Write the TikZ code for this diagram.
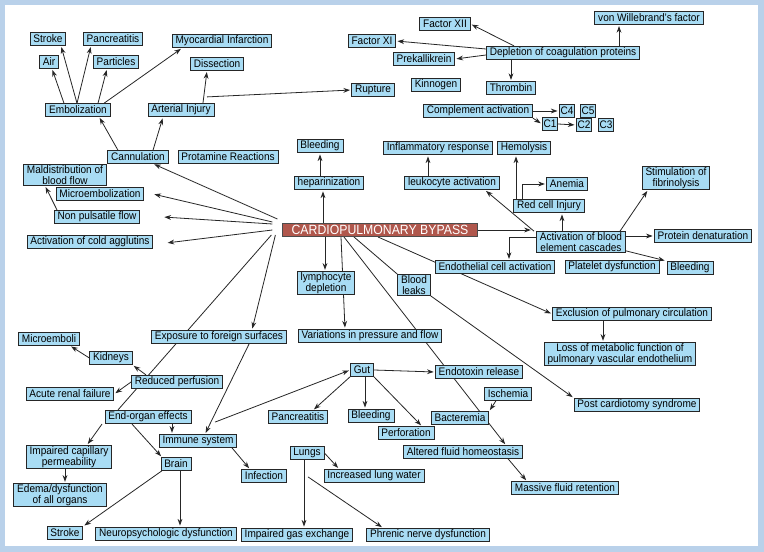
\documentclass[tikz,border=0pt]{standalone}
\usepackage{fontspec}
\setmainfont{Liberation Sans}[FakeStretch=0.92]
\usetikzlibrary{arrows.meta,calc}
\pgfdeclarelayer{back}
\pgfdeclarelayer{bg}
\pgfsetlayers{back,bg,main}
\definecolor{boxfill}{HTML}{A8DCF4}
\definecolor{frame}{HTML}{B9D1EA}
\definecolor{cpbred}{HTML}{B0574C}
\begin{document}
\begin{tikzpicture}[x=0.75pt,y=-0.75pt,
  bx/.style={draw=black!85,fill=boxfill,line width=0.6pt,inner xsep=2.5pt,inner ysep=1.2pt,minimum height=9.5pt,font=\fontsize{8.2}{8.6}\selectfont,align=center},
  ar/.style={-{Stealth[length=5pt,width=3.6pt]},line width=0.6pt,draw=black!85,shorten >=1pt},
  ln/.style={line width=0.6pt,draw=black!85}]
\begin{pgfonlayer}{back}
\fill[frame] (0,0) rectangle (764,552);
\fill[white] (5,5) rectangle (758,546);
\end{pgfonlayer}
\useasboundingbox (0,0) rectangle (764,552);
% nodes
\node[bx] (stroke1) at (48,39) {Stroke};
\node[bx] (panc1) at (113,39) {Pancreatitis};
\node[bx] (mi) at (222,41) {Myocardial Infarction};
\node[bx] (air) at (49,62) {Air};
\node[bx] (part) at (116,62) {Particles};
\node[bx] (diss) at (217,64) {Dissection};
\node[bx] (embo) at (78,110) {Embolization};
\node[bx] (art) at (181,110) {Arterial Injury};
\node[bx] (rupt) at (373,90) {Rupture};
\node[bx] (bleed1) at (320,146) {Bleeding};
\node[bx] (hep) at (329,183) {heparinization};
\node[bx] (cann) at (138,157) {Cannulation};
\node[bx] (prot) at (228,157) {Protamine Reactions};
\node[bx,inner ysep=0.5pt] (mald) at (65,175) {Maldistribution of\\blood flow};
\node[bx] (micro) at (100,194) {Microembolization};
\node[bx] (nonp) at (97,217) {Non pulsatile flow};
\node[bx] (cold) at (90,242) {Activation of cold agglutins};
\node[draw=black!70,fill=cpbred,text=white,font=\fontsize{10}{11}\selectfont,inner xsep=3pt,inner ysep=1.5pt,minimum width=146pt] (cpb) at (380,230) {CARDIOPULMONARY BYPASS};
\node[bx] (f12) at (445,24) {Factor XII};
\node[bx] (vwf) at (649,18) {von Willebrand's factor};
\node[bx] (f11) at (372,41) {Factor XI};
\node[bx] (depl) at (563,53) {Depletion of coagulation proteins};
\node[bx] (prek) at (424,59) {Prekallikrein};
\node[bx] (kinn) at (436,85) {Kinnogen};
\node[bx] (thro) at (511,88) {Thrombin};
\node[bx] (comp) at (478,111) {Complement activation};
\node[bx,inner xsep=1pt] (c4) at (567,111) {C4};
\node[bx,inner xsep=1pt] (c5) at (588,111) {C5};
\node[bx,inner xsep=1pt] (c1) at (550,124) {C1};
\node[bx,inner xsep=1pt] (c2) at (584,125) {C2};
\node[bx,inner xsep=1pt] (c3) at (606,125) {C3};
\node[bx] (infl) at (438,148) {Inflammatory response};
\node[bx] (hemo) at (524,148) {Hemolysis};
\node[bx] (leuk) at (452,183) {leukocyte activation};
\node[bx] (anem) at (567,184) {Anemia};
\node[bx,inner ysep=0.5pt] (fibr) at (676,178) {Stimulation of\\fibrinolysis};
\node[bx] (rci) at (549,206) {Red cell Injury};
\node[bx,inner ysep=0.5pt] (act) at (581,242) {Activation of blood\\element cascades};
\node[bx] (pden) at (703,236) {Protein denaturation};
\node[bx] (endo) at (495,267) {Endothelial cell activation};
\node[bx] (plat) at (612,267) {Platelet dysfunction};
\node[bx] (bleedr) at (690,268) {Bleeding};
\node[bx,inner ysep=0.5pt] (lymph) at (326,283) {lymphocyte\\depletion};
\node[bx,inner ysep=0.5pt] (leaks) at (414,285) {Blood\\leaks};
\node[bx] (excl) at (632,314) {Exclusion of pulmonary circulation};
\node[bx] (var) at (370,336) {Variations in pressure and flow};
\node[bx,inner ysep=0.5pt] (loss) at (620,354) {Loss of metabolic function of\\pulmonary vascular endothelium};
\node[bx] (gut) at (362,370) {Gut};
\node[bx] (etox) at (479,372) {Endotoxin release};
\node[bx] (isch) at (508,394) {Ischemia};
\node[bx] (post) at (637,405) {Post cardiotomy syndrome};
\node[bx] (panc2) at (298,417) {Pancreatitis};
\node[bx] (bleed2) at (371,416) {Bleeding};
\node[bx] (bact) at (460,418) {Bacteremia};
\node[bx] (perf) at (406,433) {Perforation};
\node[bx] (alt) at (463,452) {Altered fluid homeostasis};
\node[bx] (lungs) at (307,453) {Lungs};
\node[bx] (ilw) at (374,476) {Increased lung water};
\node[bx] (mass) at (565,488) {Massive fluid retention};
\node[bx] (phr) at (428,535) {Phrenic nerve dysfunction};
\node[bx] (gas) at (297,535) {Impaired gas exchange};
\node[bx] (memb) at (49,339) {Microemboli};
\node[bx] (expo) at (219,337) {Exposure to foreign surfaces};
\node[bx] (kid) at (111,358) {Kidneys};
\node[bx] (redp) at (177,382) {Reduced perfusion};
\node[bx] (arf) at (70,394) {Acute renal failure};
\node[bx] (endorg) at (148,417) {End-organ effects};
\node[bx] (immu) at (198,441) {Immune system};
\node[bx,inner ysep=0.5pt] (icap) at (69,457) {Impaired capillary\\permeability};
\node[bx] (brain) at (176,464) {Brain};
\node[bx] (inf) at (264,476) {Infection};
\node[bx,inner ysep=0.5pt] (edema) at (60,495) {Edema/dysfunction\\of all organs};
\node[bx] (stroke2) at (65,533) {Stroke};
\node[bx] (neur) at (166,534) {Neuropsychologic dysfunction};
% edges
\begin{pgfonlayer}{bg}
\draw[ar] (embo.north -| 64,0) -- (air.south -| 52,0);
\draw[ar] (embo.north -| 77,0) -- (stroke1.south -| 61,0);
\draw[ar] (embo.north -| 77,0) -- (panc1.south -| 91,0);
\draw[ar] (embo.north -| 98,0) -- (part.south -| 107,0);
\draw[ar] (embo.north -| 104,0) -- (mi.south -| 182,0);
\draw[ar] (cann.north -| 118,0) -- (embo.south -| 99,0);
\draw[ar] (cann.north -| 153,0) -- (art.south -| 163,0);
\draw[ar] (art.north -| 203,0) -- (diss.south -| 207,0);
\draw[ar] ($(art.north -| 207,0)+(0,-6)$) -- (rupt.west);
\draw[ar] ($(cpb.north west)+(-5,-4)$) -- (cann.south -| 153,0);
\draw[ar] ($(cpb.west)+(-10,-8)$) -- (micro.east -| 153,0);
\draw[ar] ($(cpb.west)+(-10,-6)$) -- (nonp.east -| 163,0);
\draw[ar] ($(cpb.west)+(-10,0)$) -- ($(cold.east)+(13,1)$);
\draw[ar] (nonp.north -| 57,0) -- (mald.south -| 45,0);
\draw[ar] (cpb.north -| 323,0) -- (hep.south -| 323,0);
\draw[ar] (hep.north -| 320,0) -- (bleed1.south -| 320,0);
\draw[ar] (cpb.south -| 325,0) -- (lymph.north -| 325,0);
\draw[ar] (cpb.south -| 341,0) -- (var.north -| 345,0);
\draw[ln] (cpb.south -| 354,0) -- (leaks.north west);
\draw[ar] (leaks.south east) -- (post.north west);
\draw[ar] (cpb.south -| 378,0) -- (excl.west);
\draw[ar] (cpb.south -| 344,0) -- (alt.north -| 506,0);
\draw[ar] (alt.south -| 508,0) -- (mass.north -| 527,0);
\draw[ar] (excl.south -| 603,0) -- (loss.north -| 603,0);
\draw[ar,shorten >=4pt] (cpb.east) -- (act.west |- cpb.east);
\draw[ar] (act.north -| 534,0) -- (leuk.south -| 485,0);
\draw[ar] (leuk.north -| 428,0) -- (infl.south -| 428,0);
\draw[ar] (act.north -| 562,0) -- (rci.south -| 562,0);
\draw[ar] (rci.north -| 516,0) -- (hemo.south -| 516,0);
\draw[ar] (rci.north -| 522,0) |- (anem.west);
\draw[ar] (act.north -| 620,0) -- (fibr.south -| 648,0);
\draw[ar] (act.east |- pden) -- (pden);
\draw[ar] ($(act.south east)+(0,-2)$) -- (bleedr.north -| 666,0);
\draw[ar] (act.west |- 0,237) -| (endo.north -| 509,0);
\draw[ar] (depl.north -| 514,0) -- (f12.east);
\draw[ar] ($(depl.west)+(0,-4)$) -- (f11.east);
\draw[ar] ($(depl.west)+(0,2)$) -- (prek.east);
\draw[ar] (depl.south -| thro) -- (thro);
\draw[ar] (depl.north -| 619,0) -- (vwf.south -| 619,0);
\draw[ar] (comp.east) -- (c4.west);
\draw[ar] (comp.south east) -- (c1.west);
\draw[ar] (c1.east) -- (c2.west);
\draw[ar] ($(cpb.south west)+(-7,-2)$) -- (expo.north -| 252,0);
\draw[ln] ($(cpb.south west)+(-11,-2)$) -- (endorg.north -| 118,0);
\draw[ar] (expo.south -| 249,0) -- (immu.north -| 205,0);
\draw[ar] (redp.north -| 146,0) -- (kid.south east);
\draw[ar] (kid.west) -- (memb.south -| 70,0);
\draw[ar] (redp.west) -- (arf.east);
\draw[ar] (endorg.south -| 172,0) -- (immu.north -| 172,0);
\draw[ar] (endorg.south -| 102,0) -- (icap.north -| 87,0);
\draw[ar] (endorg.south -| 132,0) -- (brain.north -| 162,0);
\draw[ar] (icap.south -| 65,0) -- (edema.north -| 65,0);
\draw[ar] (brain.south -| 162,0) -- (stroke2.north east);
\draw[ar] (brain.south -| 180,0) -- (neur.north -| 180,0);
\draw[ar] (immu.south -| 232,0) -- (inf.north -| 250,0);
\draw[ar] ($(immu.north)+(17,-12)$) -- (gut.west);
\draw[ar] (gut.south west) -- (panc2.north -| 313,0);
\draw[ar] (gut.south -| 365,0) -- (bleed2.north -| 365,0);
\draw[ar] (gut.south east) -- (perf.north -| 422,0);
\draw[ar] (gut.east) -- (etox.west);
\draw[ar] (isch.south -| 496,0) -- (bact.north east);
\draw[ar] (lungs.east) -- (ilw.north -| 339,0);
\draw[ar] (lungs.south -| 304,0) -- (gas.north -| 304,0);
\draw[ar] ($(lungs.south)+(1,17)$) -- (phr.north -| 383,0);
\end{pgfonlayer}
\end{tikzpicture}
\end{document}
